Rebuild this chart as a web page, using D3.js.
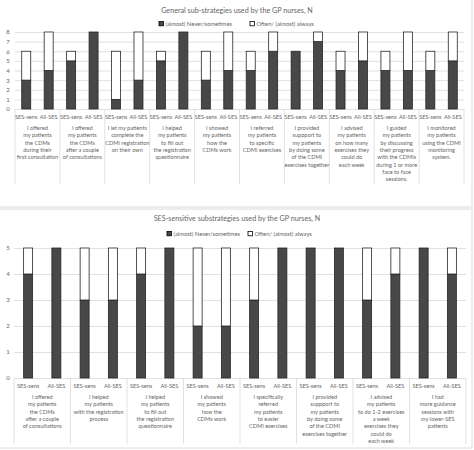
<!DOCTYPE html>
<html>
<head>
<meta charset="utf-8">
<script src="https://cdn.jsdelivr.net/npm/d3@7"></script>
<style>
  body { margin: 0; background: #fff; }
  svg text { font-family: Lato, "Open Sans", sans-serif; fill: #666; }
</style>
</head>
<body>
<div id="chart"></div>
<script>
// series names
const seriesNames = ["(almost) Never/sometimes", "Often/ (almost) always"];
const subCats = ["SES-sens", "All-SES"];

// top chart: general sub-strategies
const topTitle = "General sub-strategies used by the GP nurses, N";
const topGroups = [
  ["I offered", "my patients", "the CDMs", "during their", "first consultation"],
  ["I offered", "my patients", "the CDMs", "after a couple", "of consultations"],
  ["I let my patients", "complete the", "CDMI registration", "on their own"],
  ["I helped", "my patients", "to fill out", "the registration", "questionnaire"],
  ["I showed", "my patients", "how the", "CDMs work"],
  ["I referred", "my patients", "to specific", "CDMI exercises"],
  ["I provided", "suppport to", "my patients", "by doing some", "of the CDMI", "exercises together"],
  ["I advised", "my patients", "on how many", "exercises they", "could do", "each week"],
  ["I guided", "my patients", "by discussing", "their progress", "with the CDMIs", "during 1 or more", "face to face", "sessions."],
  ["I monitored", "my patients", "using the CDMI", "monitoring", "system."]
];
const topNeverSens = [3, 5, 1, 5, 3, 4, 6, 4, 4, 4];
const topNeverAll  = [4, 8, 3, 8, 4, 6, 7, 5, 4, 5];
const topOftenSens = [3, 1, 5, 1, 3, 2, 0, 2, 2, 2];
const topOftenAll  = [4, 0, 5, 0, 4, 2, 1, 3, 4, 3];
const topTicks = [0, 1, 2, 3, 4, 5, 6, 7, 8];

// bottom chart: SES-sensitive substrategies
const botTitle = "SES-sensitive substrategies used by the GP nurses, N";
const botGroups = [
  ["I offered", "my patients", "the CDMs", "after a couple", "of consultations"],
  ["I helped", "my patients", "with the registration", "process"],
  ["I helped", "my patients", "to fill out", "the registration", "questionnaire"],
  ["I showed", "my patients", "how the", "CDMs work"],
  ["I specifically", "referred", "my patients", "to easier", "CDMI exercises"],
  ["I provided", "suppport to", "my patients", "by doing some", "of the CDMI", "exercises together"],
  ["I advised", "my patients", "to do 1-2 exercises", "a week", "exercises they", "could do", "each week"],
  ["I had", "more guidance", "sessions with", "my lower-SES", "patients"]
];
const botNeverSens = [4, 3, 4, 2, 3, 5, 3, 5];
const botNeverAll  = [5, 3, 5, 2, 5, 5, 4, 4];
const botOftenSens = [1, 2, 1, 3, 2, 0, 2, 0];
const botOftenAll  = [0, 2, 0, 3, 0, 0, 1, 1];
const botTicks = [0, 1, 2, 3, 4, 5];

const W = 474, H = 450;
const darkFill = "#484848", edge = "#262626";

const svg = d3.select("#chart").append("svg")
  .attr("width", W).attr("height", H);

function drawChart(opt) {
  const g = svg.append("g");

  // light frame around the chart
  g.append("rect")
    .attr("x", opt.frame[0]).attr("y", opt.frame[1])
    .attr("width", opt.frame[2]).attr("height", opt.frame[3])
    .attr("fill", "none").attr("stroke", "#e8e8e8").attr("stroke-width", 1.5);

  const x = d3.scaleBand()
    .domain(d3.range(opt.groups.length))
    .range([opt.left, opt.right])
    .padding(0);

  const xSub = d3.scaleBand()
    .domain(subCats)
    .range([0, x.bandwidth()])
    .padding(0);

  const y = d3.scaleLinear()
    .domain([0, d3.max(opt.ticks)])
    .range([opt.bottom, opt.top]);

  // gridlines
  g.selectAll(".grid")
    .data(opt.ticks)
    .enter().append("line")
    .attr("x1", opt.left).attr("x2", opt.right)
    .attr("y1", d => y(d) + 0.5).attr("y2", d => y(d) + 0.5)
    .attr("stroke", "#d9d9d9").attr("stroke-width", 0.8);

  // y axis labels
  const yAxis = d3.axisLeft(y).tickValues(opt.ticks).tickFormat(d3.format("d"))
    .tickSize(0).tickPadding(0);
  const ya = g.append("g").attr("transform", `translate(8,0)`).call(yAxis);
  ya.select(".domain").remove();
  ya.selectAll("text")
    .attr("text-anchor", "middle")
    .style("font-size", "6px")
    .style("font-family", "Lato, sans-serif")
    .style("fill", "#666");

  // stacked bars
  const rows = [];
  opt.groups.forEach((grp, i) => {
    rows.push({ i, sub: "SES-sens", never: opt.neverSens[i], often: opt.oftenSens[i] });
    rows.push({ i, sub: "All-SES", never: opt.neverAll[i], often: opt.oftenAll[i] });
  });
  const bw = opt.barW;
  const bx = d => x(d.i) + xSub(d.sub) + xSub.bandwidth() / 2 - bw / 2;

  g.selectAll(".never")
    .data(rows)
    .enter().append("rect")
    .attr("x", bx)
    .attr("y", d => y(d.never))
    .attr("width", bw)
    .attr("height", d => y(0) - y(d.never))
    .attr("fill", darkFill).attr("stroke", edge).attr("stroke-width", 0.8);

  g.selectAll(".often")
    .data(rows.filter(d => d.often > 0))
    .enter().append("rect")
    .attr("x", bx)
    .attr("y", d => y(d.never + d.often))
    .attr("width", bw)
    .attr("height", d => y(d.never) - y(d.never + d.often))
    .attr("fill", "#fff").attr("stroke", edge).attr("stroke-width", 0.8);

  // multi-level category axis: separators
  g.selectAll(".sep")
    .data(d3.range(opt.groups.length + 1))
    .enter().append("line")
    .attr("x1", i => (i < opt.groups.length ? x(i) : opt.right))
    .attr("x2", i => (i < opt.groups.length ? x(i) : opt.right))
    .attr("y1", opt.bottom).attr("y2", opt.sepEnd)
    .attr("stroke", "#d9d9d9").attr("stroke-width", 0.8);

  // sub category labels
  g.selectAll(".subLab")
    .data(rows)
    .enter().append("text")
    .attr("x", d => x(d.i) + xSub(d.sub) + xSub.bandwidth() / 2)
    .attr("y", opt.bottom + 10)
    .attr("text-anchor", "middle")
    .style("font-size", "5.6px")
    .text(d => d.sub);

  // group labels
  const gl = g.selectAll(".grpLab")
    .data(opt.groups)
    .enter().append("text")
    .attr("text-anchor", "middle")
    .style("font-size", "5.6px");
  gl.selectAll("tspan")
    .data((d, i) => d.map(line => ({ line, i })))
    .enter().append("tspan")
    .attr("x", d => x(d.i) + x.bandwidth() / 2)
    .attr("y", (d, j) => opt.bottom + 21 + j * 7.35)
    .text(d => d.line);

  // title
  g.append("text")
    .attr("x", 237).attr("y", opt.titleY)
    .attr("text-anchor", "middle")
    .style("font-size", "7.2px")
    .text(opt.title);

  // legend
  const leg = g.selectAll(".leg")
    .data(seriesNames)
    .enter().append("g")
    .attr("transform", (d, i) => `translate(${opt.legX[i]},${opt.legY})`);
  leg.append("rect")
    .attr("x", 0).attr("y", -4.6)
    .attr("width", 4.4).attr("height", 4.4)
    .attr("fill", (d, i) => (i === 0 ? darkFill : "#fff"))
    .attr("stroke", "#000").attr("stroke-width", 0.8);
  leg.append("text")
    .attr("x", 6.5).attr("y", 0)
    .style("font-size", "5.8px")
    .text(d => d);
}

drawChart({
  title: topTitle, groups: topGroups, ticks: topTicks,
  neverSens: topNeverSens, neverAll: topNeverAll,
  oftenSens: topOftenSens, oftenAll: topOftenAll,
  left: 15, right: 464, top: 32, bottom: 109,
  barW: 9, sepEnd: 184, titleY: 13, legX: [159, 250], legY: 26,
  frame: [-1, -2, 473, 209]
});

drawChart({
  title: botTitle, groups: botGroups, ticks: botTicks,
  neverSens: botNeverSens, neverAll: botNeverAll,
  oftenSens: botOftenSens, oftenAll: botOftenAll,
  left: 14, right: 466, top: 248, bottom: 378,
  barW: 9, sepEnd: 444, titleY: 221, legX: [167, 248], legY: 236,
  frame: [-1, 209, 473, 239]
});
</script>
</body>
</html>
